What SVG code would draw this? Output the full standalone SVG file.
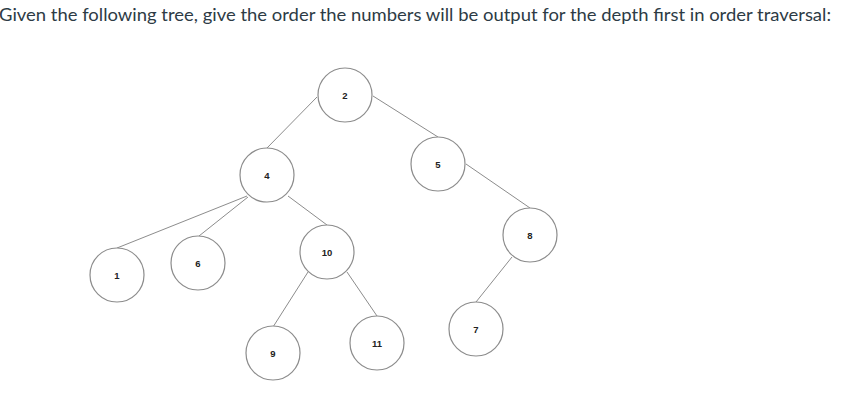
<svg xmlns="http://www.w3.org/2000/svg" width="862" height="416" viewBox="0 0 862 416">
<style>
.title{font-family:Lato,"Liberation Sans",sans-serif;font-size:18px;fill:#2d3b45}
.node circle{fill:#fff;stroke:#8c8c8c;stroke-width:1.2}
.node text{font-family:"Liberation Sans",Arial,sans-serif;font-weight:bold;font-size:9.5px;fill:#222;text-anchor:middle}
#edges line{stroke:#8c8c8c;stroke-width:1}
</style>
<rect width="862" height="416" fill="#fff"/>
<text class="title" x="-1" y="21" textLength="832" lengthAdjust="spacingAndGlyphs">Given the following tree, give the order the numbers will be output for the depth first in order traversal:</text>
<g id="edges">
<line x1="317" y1="97" x2="267" y2="148"/>
<line x1="373" y1="96" x2="438" y2="137"/>
<line x1="466" y1="164" x2="530" y2="208"/>
<line x1="512" y1="257" x2="476" y2="302"/>
<line x1="247" y1="196" x2="117" y2="248"/>
<line x1="248" y1="197" x2="199" y2="236"/>
<line x1="288" y1="196" x2="327" y2="225"/>
<line x1="308" y1="272" x2="273" y2="327"/>
<line x1="347" y1="272" x2="377" y2="316"/>
</g>
<g id="n2" class="node"><circle cx="345" cy="95" r="27"/><text x="345" y="98.5">2</text></g>
<g id="n5" class="node"><circle cx="438" cy="164" r="27"/><text x="438" y="167.5">5</text></g>
<g id="n4" class="node"><circle cx="267" cy="175" r="27"/><text x="267" y="178.5">4</text></g>
<g id="n8" class="node"><circle cx="530" cy="235" r="27"/><text x="530" y="238.5">8</text></g>
<g id="n1" class="node"><circle cx="117" cy="275" r="27"/><text x="117" y="278.5">1</text></g>
<g id="n6" class="node"><circle cx="198" cy="263" r="27"/><text x="198" y="266.5">6</text></g>
<g id="n10" class="node"><circle cx="327" cy="252" r="27"/><text x="327" y="255.5">10</text></g>
<g id="n9" class="node"><circle cx="273" cy="353" r="27"/><text x="273" y="356.5">9</text></g>
<g id="n11" class="node"><circle cx="377" cy="343" r="27"/><text x="377" y="346.5">11</text></g>
<g id="n7" class="node"><circle cx="476" cy="329" r="27"/><text x="476" y="332.5">7</text></g>
</svg>
